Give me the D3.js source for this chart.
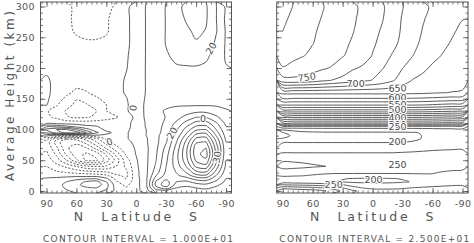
<!DOCTYPE html>
<html>
<head>
<meta charset="utf-8">
<title>Contours</title>
<script src="https://cdn.jsdelivr.net/npm/d3@7/dist/d3.min.js"></script>
<style>
  body { margin: 0; background: #fff; }
  svg { display: block; }
  text { font-family: "DejaVu Sans", sans-serif; fill: #555; }
</style>
</head>
<body>
<script>
// grid: latitude columns and height rows (km)
const lats = [90, 80, 70, 60, 50, 40, 30, 20, 10, 0, -10, -20, -30, -40, -50, -60, -70, -80, -90];
const heights = [0, 5, 10, 15, 20, 25, 30, 40, 50, 60, 70, 80, 85, 90, 95, 100, 105, 110, 120, 130, 140, 150, 160, 180, 200, 220, 240, 260, 280, 300];

// left panel, one row per height (bottom to top)
const leftRows = [
  [4, 6, 9, 12, 14, 14, 8, -3, -6, -3, 5, 24, 30, 22, 22, 24, 26, 24, 22],
  [5, 7, 11, 15, 19, 20, 12, -4, -9, -4, 7, 36, 46, 30, 28, 30, 32, 28, 24],
  [5, 7, 12, 18, 23, 26, 14, -6, -12, -4, 8, 44, 56, 36, 32, 36, 38, 32, 26],
  [4, 6, 10, 16, 21, 24, 10, -9, -16, -4, 8, 42, 54, 40, 38, 44, 46, 38, 28],
  [1, 2, 4, 7, 9, 10, 2, -13, -20, -4, 8, 36, 48, 44, 46, 54, 56, 44, 30],
  [-3, -3, -3, -3, -4, -4, -8, -18, -22, -3, 8, 30, 44, 48, 54, 66, 68, 50, 32],
  [-6, -8, -10, -12, -14, -16, -18, -24, -22, -3, 8, 26, 42, 50, 60, 76, 78, 56, 34],
  [-10, -16, -22, -30, -38, -40, -38, -30, -18, -2, 8, 22, 40, 54, 70, 92, 96, 66, 38],
  [-14, -25, -40, -58, -72, -72, -56, -36, -14, -1, 8, 20, 38, 56, 76, 102, 108, 74, 40],
  [-18, -32, -52, -66, -72, -66, -48, -26, -8, 0.5, 8, 19, 36, 56, 78, 107, 114, 78, 42],
  [-22, -38, -58, -66, -60, -46, -28, -13, -4, 1, 8, 18, 33, 53, 77, 106, 110, 76, 42],
  [-24, -45, -58, -56, -45, -30, -14, -5, -1, 1, 9, 17, 29, 49, 72, 98, 100, 70, 40],
  [-15, -35, -48, -46, -36, -22, -8, -3, -0.5, 2, 9, 17, 28, 46, 68, 92, 94, 66, 38],
  [2, -5, -12, -10, -6, -2, -2, -2, -0.5, 2, 10, 17, 27, 43, 63, 84, 86, 60, 36],
  [22, 35, 44, 46, 30, 12, 2, -2, -0.5, 2, 10, 16, 25, 40, 58, 76, 78, 55, 34],
  [33, 40, 40, 28, 14, 4, -2, -3, -1, 2, 10, 16, 24, 38, 54, 68, 70, 50, 32],
  [18, 16, 12, 6, 2, 0.5, -3, -4, -1.5, 2, 11, 16, 23, 35, 49, 61, 62, 46, 30],
  [-1, -2, -3, -3, -4, -4, -4, -4, -1.5, 2, 11, 16, 22, 32, 44, 54, 55, 42, 28],
  [-8, -12, -19, -22, -21, -18, -14, -11, -6, 3, 12, 16, 20.5, 26, 33, 40, 40, 32, 24],
  [-9, -14, -21, -24, -23, -20, -10, -6, -1, 4, 12, 17.5, 21, 23, 25, 27, 27, 24, 21],
  [0.5, -9, -17, -22, -21, -15, -10, -5, -1, 4, 12, 15, 18, 19, 19, 19, 19, 19, 18],
  [2, -6, -12, -19.5, -16, -11, -8, -4, -0.5, 5, 11, 14, 15, 15, 14, 14, 14, 14, 13],
  [3, -5, -8, -12, -10.5, -8, -6, -3, 1, 5, 10.5, 14, 15, 15, 15, 15, 15, 14, 13],
  [2, -4, -5, -6, -6, -6, -5, -3, 1, 5, 10.5, 14, 16, 17, 17, 17, 17, 15, 12],
  [-3, -4, -5, -5, -5, -5, -4, -3, -0.5, 5, 10.5, 14, 18, 19, 19, 19, 18, 14, 10.5],
  [-5, -6, -6, -6, -6, -6, -5, -4, -1, 4, 10.5, 14, 19, 22, 24, 25, 22, 16, 9],
  [-5, -6, -7, -8, -9, -9, -8, -5, -2, 4, 10.5, 15, 20.5, 23, 26, 29, 28, 18, 9],
  [-5, -6, -8, -11, -12, -12, -11, -6, -2, 4, 10.5, 15, 20.5, 24, 28, 32, 29.5, 21, 9],
  [-5, -6, -8, -12, -13, -13, -11, -7, -2, 4, 10.5, 15, 20.5, 25, 31, 35, 31, 20.5, 8],
  [-5, -6, -8, -12, -14, -14, -12, -9, -2, 4, 10.5, 15, 20.5, 26, 33, 36, 31, 20.5, 8]
];

// right panel, same grid
const rightRows = [
  [320, 318, 315, 312, 305, 290, 270, 255, 242, 235, 233, 233, 235, 238, 240, 242, 244, 246, 246],
  [290, 288, 285, 282, 275, 265, 250.5, 235, 225, 220, 220, 220, 222, 226, 228, 230, 232, 234, 234],
  [251, 248, 246, 244, 240, 235, 226, 215, 210, 208, 208, 208, 210, 212, 215, 218, 220, 222, 222],
  [210, 209, 208, 206, 204, 201, 198, 196, 195, 195, 195, 196, 198, 201, 205, 208, 210, 210, 210],
  [215, 214, 212, 210, 207, 204, 201, 199, 198, 198, 198, 199, 201, 204, 208, 212, 212, 212, 210],
  [228, 227, 226, 222, 218, 215, 214, 213, 213, 213, 213, 213, 214, 216, 218, 220, 218, 215, 212],
  [240, 240, 238, 235, 232, 230, 230, 230, 230, 230, 230, 230, 230, 230, 230, 228, 222, 218, 216],
  [256, 255, 254, 252, 250.5, 249, 249, 249, 249, 249, 249, 249, 249, 249, 249, 248, 244, 240, 238],
  [248, 248, 247, 246, 245, 244, 244, 244, 244, 244, 244, 244, 244, 245, 246, 247, 248, 248, 248],
  [228, 228, 228, 228, 228, 228, 228, 228, 228, 228, 228, 228, 229, 230, 231, 232, 233, 233, 233],
  [214, 214, 214, 214, 214, 214, 214, 214, 214, 214, 214, 214, 215, 216, 218, 220, 221, 222, 222],
  [197, 198, 198, 198, 198, 198, 198, 198, 198, 198, 198, 198, 199, 201, 204, 207, 209, 210, 211],
  [176, 184, 190, 192, 193, 193, 193, 193, 193, 193, 193, 193, 194, 196, 201, 205, 207, 208, 209],
  [170, 177, 188, 191, 192, 193, 193, 193, 193, 193, 193, 193, 194, 196, 200.5, 204, 206, 207, 208],
  [174, 190, 196, 197, 198, 198, 198, 198, 198, 198, 198, 198, 198, 199, 201, 204, 206, 207, 208],
  [205, 208, 210, 211, 212, 212, 212, 212, 212, 212, 212, 212, 212, 213, 214, 216, 218, 219, 220],
  [247, 247, 247, 247, 247, 247, 247, 247, 247, 247, 247, 247, 247, 247, 247, 247, 246, 245, 244],
  [320, 320, 320, 320, 320, 320, 320, 320, 320, 320, 320, 320, 320, 320, 320, 319, 318, 316, 314],
  [403, 403, 403, 403, 403, 403, 403, 403, 403, 403, 403, 403, 403, 403, 402, 401, 398, 396, 394],
  [487, 487, 487, 487, 487, 487, 487, 487, 487, 487, 487, 487, 487, 487, 486, 484, 481, 478, 476],
  [552, 552, 552, 552, 552, 552, 552, 552, 552, 552, 552, 552, 552, 552, 551, 548, 545, 542, 540],
  [598, 598, 598, 598, 598, 598, 598, 598, 598, 598, 598, 598, 598, 597, 596, 594, 592, 590, 588],
  [632, 632, 632, 632, 632, 632, 632, 632, 632, 632, 632, 632, 632, 631, 630, 628, 626, 624, 622],
  [740, 744, 742, 738, 730, 724, 717, 710, 705, 699, 690, 678, 662, 649, 645, 642, 640, 638, 636],
  [773, 768, 763, 758, 753, 748, 741, 728, 722, 712, 701, 690, 675.5, 664, 654, 647, 643, 639, 635],
  [790, 781, 776, 771, 765, 757, 751, 745, 735, 724, 710, 698, 688, 675.5, 664, 655, 649, 643, 637],
  [796, 787, 779, 775.5, 770, 762, 754, 748, 740, 728, 719, 706, 694, 681, 671, 661, 654, 648, 642],
  [800, 790, 782, 777, 772, 765, 757, 751, 743, 732, 722, 709, 697, 686, 674, 665, 658, 652, 646],
  [805, 795, 786, 779, 774, 768, 760, 753, 745, 735, 726, 712, 698, 688, 677, 669, 662, 656, 650.5],
  [810, 800, 790, 782, 776, 769, 761, 754, 746, 737, 727, 716, 701, 690, 681, 671, 664, 659, 655]
];

const leftLevels = d3.range(-100, 160, 10);
const rightLevels = d3.range(100, 900, 25);

const xTicks = [90, 60, 30, 0, -30, -60, -90];
const xTickLabels = ["90", "60", "30", "0", "-30", "-60", "-90"];
const yTicks = [0, 50, 100, 150, 200, 250, 300];
const yTickLabels = ["0", "50", "100", "150", "200", "250", "300"];

// contour labels: text, latitude, height, angle
const leftLabText = ["20", "0", "0", "20", "0", "30"];
const leftLabLat = [-75, 3, 27, -36, -67, -81];
const leftLabH = [232, 135, 80, 94, 118, 55];
const leftLabAng = [-60, -80, -20, -60, 0, -80];

const rightLabText = ["750", "700", "650", "600", "550", "500", "400", "300", "250", "200", "250", "200", "250"];
const rightLabLat = [66, 17, -25, -25, -25, -25, -25, -25, -25, -25, -25, -1, 39];
const rightLabH = [185, 175, 167, 151, 140, 132, 119, 108, 105, 80, 42, 18, 11];
const rightLabAng = [-8, 0, -3, 0, 0, 0, 0, 0, 0, 0, 0, 0, 0];

const W = 474, H = 243;
const svg = d3.select("body").append("svg").attr("width", W).attr("height", H);

const y = d3.scaleLinear().domain([0, 300]).range([191, 6.5]);
const frameTop = 2, frameBottom = 193;

function drawPanel(x0, x1, rows, levels, labText, labLat, labH, labAng, interval, showY) {
  const x = d3.scaleLinear().domain([90, -90]).range([x0 + 6, x1 - 5.5]);
  const g = svg.append("g");
  const n = lats.length, m = heights.length;
  const flat = [];
  rows.forEach(function (r) { r.forEach(function (v) { flat.push(v); }); });
  const latAt = d3.scaleLinear().domain(d3.range(n)).range(lats);
  const hAt = d3.scaleLinear().domain(d3.range(m)).range(heights);
  const contours = d3.contours().size([n, m]).thresholds(levels).smooth(true)(flat);

  const open = d3.line().x(d => d[0]).y(d => d[1]).curve(d3.curveCatmullRom.alpha(0.5));
  const closed = d3.line().x(d => d[0]).y(d => d[1]).curve(d3.curveCatmullRomClosed.alpha(0.5));

  contours.forEach(function (c) {
    const dash = c.value < 0 ? "2,1.6" : null;
    c.coordinates.forEach(function (poly) {
      poly.forEach(function (ring) {
        const pts = ring.slice(0, -1).map(function (p) {
          const bx = p[0] <= 0 || p[0] >= n, by = p[1] <= 0 || p[1] >= m;
          const px = p[0] <= 0 ? x0 : p[0] >= n ? x1 : x(latAt(Math.max(0, Math.min(n - 1, p[0] - 0.5))));
          const py = p[1] <= 0 ? frameBottom : p[1] >= m ? frameTop : y(hAt(Math.max(0, Math.min(m - 1, p[1] - 0.5))));
          return { p: [px, py], b: bx || by };
        });
        const paths = [];
        const k = pts.findIndex(d => d.b);
        if (k < 0) {
          g.append("path").attr("d", closed(pts.map(d => d.p)))
            .attr("fill", "none").attr("stroke", "#4a4a4a").attr("stroke-width", 0.9)
            .attr("stroke-dasharray", dash);
          return;
        }
        const seq = pts.slice(k).concat(pts.slice(0, k + 1));
        let cur = [];
        for (let i = 0; i < seq.length - 1; i++) {
          const a = seq[i], b = seq[i + 1];
          if (a.b && b.b) { if (cur.length > 1) paths.push(cur); cur = []; continue; }
          if (cur.length === 0) cur.push(a.p);
          cur.push(b.p);
        }
        if (cur.length > 1) paths.push(cur);
        paths.forEach(function (pl) {
          g.append("path").attr("d", open(pl))
            .attr("fill", "none").attr("stroke", "#4a4a4a").attr("stroke-width", 0.9)
            .attr("stroke-dasharray", dash);
        });
      });
    });
  });

  // contour labels
  labText.forEach(function (t, i) {
    const lx = x(labLat[i]), ly = y(labH[i]);
    g.append("text").text(t)
      .attr("transform", "translate(" + lx + "," + ly + ") rotate(" + labAng[i] + ")")
      .attr("text-anchor", "middle").attr("dy", "0.35em")
      .attr("font-size", "9.5px")
      .attr("stroke", "#fff").attr("stroke-width", 2.2).attr("paint-order", "stroke")
      .style("fill", "#4a4a4a");
  });

  // frame
  g.append("rect").attr("x", x0).attr("y", frameTop).attr("width", x1 - x0).attr("height", frameBottom - frameTop)
    .attr("fill", "none").attr("stroke", "#555").attr("stroke-width", 1);

  // ticks
  const minorX = d3.range(95, -96, -5);
  const minorY = d3.range(0, 310, 10);
  const axB = d3.axisBottom(x).tickValues(xTicks).tickSize(-5).tickSizeOuter(0).tickPadding(7)
    .tickFormat((d, i) => xTickLabels[i]);
  g.append("g").attr("transform", "translate(0," + frameBottom + ")").call(axB);
  g.append("g").attr("transform", "translate(0," + frameBottom + ")")
    .call(d3.axisBottom(x).tickValues(minorX).tickSize(-2.5).tickSizeOuter(0).tickFormat(""));
  g.append("g").attr("transform", "translate(0," + frameTop + ")")
    .call(d3.axisTop(x).tickValues(xTicks).tickSize(-5).tickSizeOuter(0).tickFormat(""));
  g.append("g").attr("transform", "translate(0," + frameTop + ")")
    .call(d3.axisTop(x).tickValues(minorX).tickSize(-2.5).tickSizeOuter(0).tickFormat(""));
  const axL = d3.axisLeft(y).tickValues(yTicks).tickSize(-5).tickSizeOuter(0).tickPadding(5.5)
    .tickFormat((d, i) => showY ? yTickLabels[i] : "");
  g.append("g").attr("transform", "translate(" + x0 + ",0)").call(axL);
  g.append("g").attr("transform", "translate(" + x0 + ",0)")
    .call(d3.axisLeft(y).tickValues(minorY).tickSize(-2.5).tickSizeOuter(0).tickFormat(""));
  g.append("g").attr("transform", "translate(" + x1 + ",0)")
    .call(d3.axisRight(y).tickValues(yTicks).tickSize(-5).tickSizeOuter(0).tickFormat(""));
  g.append("g").attr("transform", "translate(" + x1 + ",0)")
    .call(d3.axisRight(y).tickValues(minorY).tickSize(-2.5).tickSizeOuter(0).tickFormat(""));

  g.selectAll(".domain").remove();
  g.selectAll(".tick line").attr("stroke", "#555").attr("stroke-width", 0.8);
  g.selectAll(".tick text").attr("font-family", "DejaVu Sans, sans-serif")
    .attr("font-size", "9.5px").attr("letter-spacing", "0.4px").style("fill", "#555");

  // titles
  const tY = 221;
  g.append("text").text("N").attr("x", x(58)).attr("y", tY).attr("text-anchor", "middle")
    .attr("font-size", "12.5px");
  g.append("text").text("Latitude").attr("x", x(0)).attr("y", tY).attr("text-anchor", "middle")
    .attr("font-size", "12.5px").attr("textLength", 70).attr("lengthAdjust", "spacing");
  g.append("text").text("S").attr("x", x(-57)).attr("y", tY).attr("text-anchor", "middle")
    .attr("font-size", "12.5px");
  g.append("text").text("CONTOUR INTERVAL = " + interval)
    .attr("x", (x0 + x1) / 2 + 2).attr("y", 241.5).attr("text-anchor", "middle")
    .attr("font-size", "9px").attr("textLength", 190).attr("lengthAdjust", "spacing");
  return g;
}

drawPanel(40.5, 231.5, leftRows, leftLevels, leftLabText, leftLabLat, leftLabH, leftLabAng, "1.000E+01", true);
drawPanel(276.7, 468, rightRows, rightLevels, rightLabText, rightLabLat, rightLabH, rightLabAng, "2.500E+01", false);

svg.append("text").text("Average Height (km)")
  .attr("transform", "translate(14,96) rotate(-90)")
  .attr("text-anchor", "middle").attr("font-size", "12px")
  .attr("textLength", 170).attr("lengthAdjust", "spacing");
</script>
</body>
</html>
